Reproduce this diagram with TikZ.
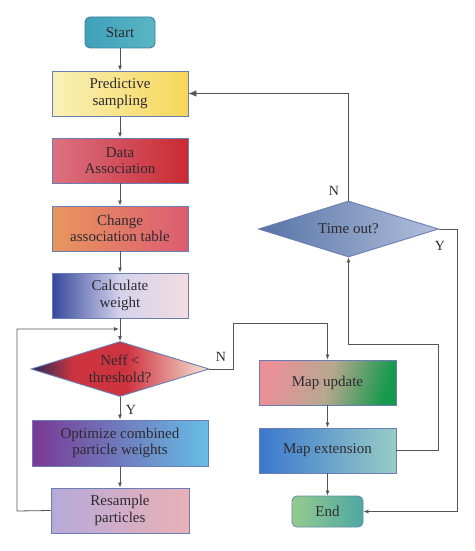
\documentclass[tikz,border=0pt]{standalone}
\usepackage{fontspec}
\setmainfont{Liberation Serif}
\usetikzlibrary{shapes.geometric,arrows.meta}

\definecolor{edgeblue}{HTML}{6B7DB5}
\definecolor{linec}{HTML}{555555}
\definecolor{textc}{HTML}{2E2A30}
% fill colours
\definecolor{startA}{HTML}{3FA0BA}
\definecolor{startB}{HTML}{5AB6C4}
\definecolor{startE}{HTML}{3C7F9E}
\definecolor{predA}{HTML}{FAF0B8}
\definecolor{predB}{HTML}{F6D75A}
\definecolor{dataA}{HTML}{DC7282}
\definecolor{dataB}{HTML}{C92A32}
\definecolor{chgA}{HTML}{E8965E}
\definecolor{chgB}{HTML}{DC5C72}
\definecolor{calcA}{HTML}{34489C}
\definecolor{calcM}{HTML}{D4D2EC}
\definecolor{calcB}{HTML}{F4DCE0}
\definecolor{neffA}{HTML}{252A58}
\definecolor{neffM}{HTML}{CE3440}
\definecolor{neffB}{HTML}{F6E6D8}
\definecolor{optA}{HTML}{7A3894}
\definecolor{optB}{HTML}{66BEE6}
\definecolor{resA}{HTML}{B6AADA}
\definecolor{resB}{HTML}{EAB0B6}
\definecolor{mupA}{HTML}{EA9098}
\definecolor{mupM}{HTML}{B8A890}
\definecolor{mupB}{HTML}{18994E}
\definecolor{mexA}{HTML}{3A78CE}
\definecolor{mexB}{HTML}{98CCC6}
\definecolor{endA}{HTML}{96CA8E}
\definecolor{endB}{HTML}{4EA8A2}
\definecolor{endE}{HTML}{5E8FA8}
\definecolor{timeA}{HTML}{5673A6}
\definecolor{timeB}{HTML}{B2C0DC}

% left-to-right fill of the threshold test: navy tip, red body, pale right tip
\pgfdeclarehorizontalshading{neffshade}{100bp}{
  color(0bp)=(neffA); color(25bp)=(neffA); color(37bp)=(neffM);
  color(52bp)=(neffM); color(75bp)=(neffB); color(100bp)=(neffB)}

\begin{document}
\begin{tikzpicture}[x=1pt,y=-1pt,
  lbl/.style={font=\fontsize{14}{16}\selectfont, text=textc},
  box/.style={draw=edgeblue, line width=0.9pt, minimum width=136pt, minimum height=45pt,
    align=center, inner sep=2pt, font=\fontsize{15}{16.5}\selectfont, text=textc},
  term/.style={box, rounded corners=5pt, minimum width=70pt, minimum height=31pt},
  dia/.style={diamond, aspect=3.3, draw=edgeblue, line width=0.9pt, inner sep=0pt,
    align=center, font=\fontsize{15}{16.5}\selectfont, text=textc},
  link/.style={draw=linec, line width=0.8pt, -{Latex[length=5pt,width=4pt]}},
  bigtip/.style={draw=linec, line width=0.8pt, -{Latex[length=8pt,width=6.5pt]}}
]
\useasboundingbox (0,0) rectangle (474,551);

% main column
\node[term, draw=startE, left color=startA, right color=startB] (start) at (120,32.5) {Start};
\node[box, left color=predA, right color=predB] (pred) at (120,93.5) {Predictive\\sampling};
\node[box, left color=dataA, right color=dataB] (data) at (120,160.5) {Data\\Association};
\node[box, left color=chgA, right color=chgB] (chg) at (120,228.5) {Change\\association table};
\node[box, left color=calcA, right color=calcB, middle color=calcM] (calc) at (120,295.5) {Calculate\\weight};
\node[dia, minimum width=178pt, minimum height=55pt, shading=neffshade] (neff) at (120,369) {Neff <\\threshold?};
\node[box, minimum width=176pt, minimum height=46pt, left color=optA, right color=optB] (opt) at (120,443) {Optimize combined\\particle weights};
\node[box, minimum width=138pt, left color=resA, right color=resB] (res) at (120,510.5) {Resample\\particles};

% map column
\node[box, minimum width=137pt, left color=mupA, right color=mupB, middle color=mupM, shading angle=75] (mup) at (327.5,382.5) {Map update};
\node[box, minimum width=137pt, left color=mexA, right color=mexB] (mex) at (327.5,450.5) {Map extension};
\node[term, minimum width=71pt, draw=endE, left color=endA, right color=endB] (fin) at (327.5,511.5) {End};
\node[dia, minimum width=180pt, minimum height=56pt, left color=timeA, right color=timeB] (tout) at (348.5,229) {Time out?};

% turning points of the routed connectors
\coordinate (loopL) at (17,511);
\coordinate (loopIn) at (119,329);
\coordinate (nTurn) at (233,323);
\coordinate (xTurn) at (438,344);
\coordinate (yTurn) at (457,511.5);

% straight flow
\draw[link] (start) -- (pred);
\draw[link] (pred) -- (data);
\draw[link] (data) -- (chg);
\draw[link] (chg) -- (calc);
\draw[link] (calc) -- (neff);
\draw[link] (neff) -- (opt);
\draw[link] (opt) -- (res);
\draw[link] (mup) -- (mex);
\draw[link] (mex) -- (fin);

% routed connectors
\draw[link] (res.west) -- (loopL) |- (loopIn);
\draw[link] (neff.east) -| (nTurn) -| (mup.north);
\draw[link] (mex.east) -| (xTurn) -| (tout.south);
\draw[bigtip] (tout.north) |- (pred.east);
\draw[link] (tout.east) -| (yTurn) -- (fin.east);

% branch labels
\node[lbl] (yNeff) at (131,410) {Y};
\node[lbl] (nNeff) at (221,357) {N};
\node[lbl] (nTime) at (334,191) {N};
\node[lbl] (yTime) at (440,246) {Y};
\end{tikzpicture}
\end{document}
